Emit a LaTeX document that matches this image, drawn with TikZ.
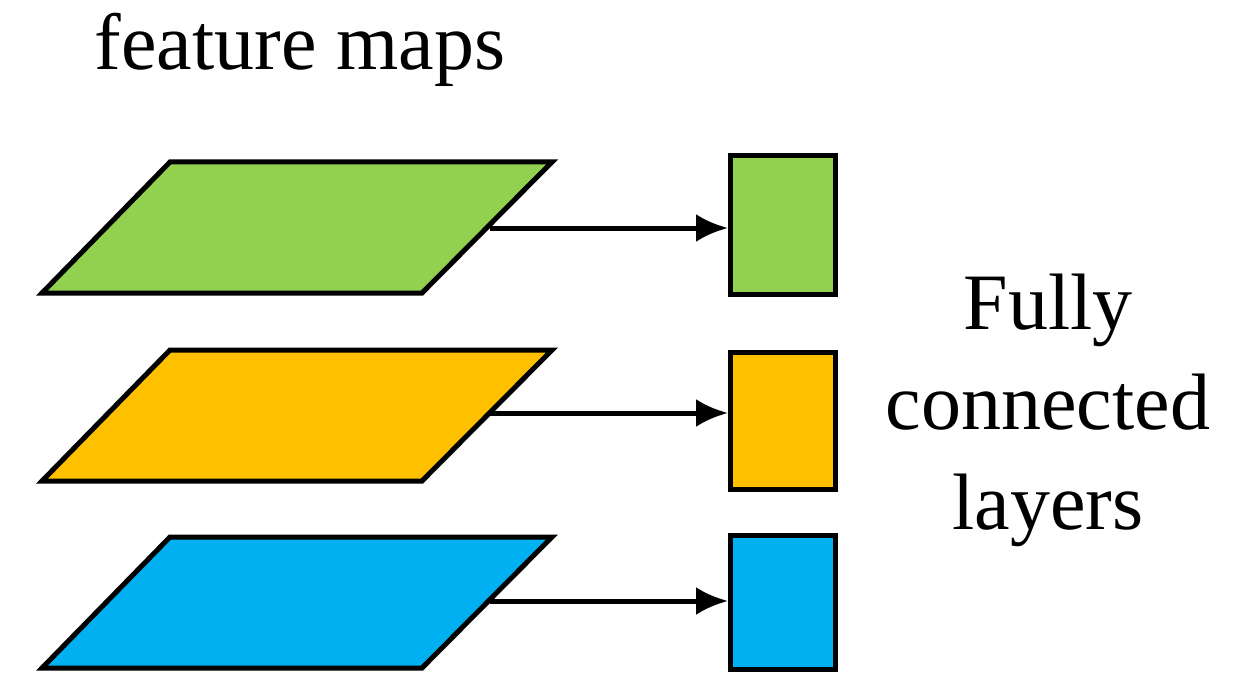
\documentclass[tikz,border=0pt]{standalone}
\usepackage{fontspec}
\usetikzlibrary{arrows.meta}
\setmainfont{Liberation Serif}
\definecolor{cg}{HTML}{92D050}
\definecolor{co}{HTML}{FFC000}
\definecolor{cb}{HTML}{00B0F0}
\begin{document}
\begin{tikzpicture}[x=0.5pt,y=-0.5pt,
  plane/.style={draw=black,line width=2.5pt,line join=miter},
  fc/.style={draw=black,line width=2.5pt,minimum width=52.5pt,inner sep=0pt,anchor=north west},
  conn/.style={line width=2.5pt,-{Latex[length=16pt,width=14pt]}},
  lbl/.style={font=\fontsize{40}{50}\selectfont,align=center}]
\useasboundingbox (0,0) rectangle (1240,695);
\foreach \n/\c/\t/\st/\sh/\ay in {g/cg/162/153/139/228, o/co/350/350/137/413, b/cb/537/533/134/601}{
  \draw[plane,fill=\c] (170,\t) -- (552,\t) -- (422,\t+131) -- (42,\t+131) -- cycle;
  \coordinate (s\n) at (490,\ay);
  \node[fc,fill=\c,minimum height=\sh*0.5pt] (f\n) at (728,\st) {};
  \draw[conn] (s\n) -- (s\n -| f\n.west);
}
\node[lbl] (t1) at (300,50) {feature maps};
\node[lbl] (t2) at (1048,410) {Fully\\connected\\layers};
\end{tikzpicture}
\end{document}
